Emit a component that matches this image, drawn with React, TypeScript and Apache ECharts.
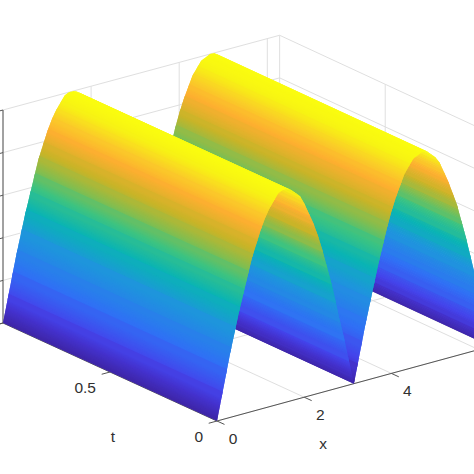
import React, { useEffect, useRef } from "react";
import * as echarts from "echarts";

// Surface cross-section (the height does not change along t)
const xSamples = [0,0.1,0.2,0.3,0.4,0.5,0.6,0.7,0.8,0.9,1,1.1,1.2,1.3,1.4,1.5,1.6,1.7,1.8,1.9,2,2.1,2.2,2.3,2.4,2.5,2.6,2.7,2.8,2.9,3,3.1,3.14,3.2,3.3,3.4,3.5,3.6,3.7,3.8,3.9,4,4.1,4.2,4.3,4.4,4.5,4.6,4.7,4.8,4.9,5,5.1,5.2,5.3,5.4,5.5,5.6,5.7,5.8,5.9,6,6.1,6.2,6.28];
const zSamples = [0,0.1,0.2,0.3,0.39,0.48,0.56,0.64,0.72,0.78,0.84,0.89,0.93,0.96,0.99,1,1,0.99,0.97,0.95,0.91,0.86,0.81,0.75,0.68,0.6,0.52,0.43,0.33,0.24,0.14,0.04,0,0.06,0.16,0.26,0.35,0.44,0.53,0.61,0.69,0.76,0.82,0.87,0.92,0.95,0.98,0.99,1,1,0.98,0.96,0.93,0.88,0.83,0.77,0.71,0.63,0.55,0.46,0.37,0.28,0.18,0.08,0];
const xTicks = [0, 2, 4, 6];
const tTicks = [0, 0.5, 1];
const zTicks = [0, 0.2, 0.4, 0.6, 0.8, 1];
const xTickLabels = ["0", "2", "4"];
const tTickLabels = ["0", "0.5"];
const xMax = 6.28;
const parulaPos = [0, 0.06, 0.11, 0.23, 0.39, 0.5, 0.6, 0.67, 0.75, 0.84, 0.9, 0.96, 1];
const parulaRgb = [[62,38,168],[68,50,205],[68,68,235],[48,112,245],[30,150,220],[10,180,180],[60,195,130],[130,190,80],[200,180,40],[253,175,48],[250,205,40],[247,243,20],[250,252,15]];

const GRID = "#dfdfdf";
const AXIS = "#555555";
const TEXT = "#303030";

function project(x: number, t: number, z: number): [number, number] {
  return [217 + (43.6 + 0.45 * t) * x - 214 * t, 421 - 11.9 * x - 98 * t - 213 * z];
}
function parula(z: number): string {
  const v = Math.max(0, Math.min(1, z));
  let i = 0;
  while (i < parulaPos.length - 2 && v > parulaPos[i + 1]) i++;
  const f = (v - parulaPos[i]) / (parulaPos[i + 1] - parulaPos[i]);
  const c = parulaRgb[i].map((a, k) => Math.round(a + (parulaRgb[i + 1][k] - a) * f));
  return `rgb(${c[0]},${c[1]},${c[2]})`;
}

type Seg = [number, number, number, number, number, number, number];
const segs: Seg[] = [];
function seg(a: number[], b: number[], kind: number) {
  segs.push([a[0], a[1], a[2], b[0], b[1], b[2], kind]);
}
for (const x of xTicks) {
  seg([x, 0, 0], [x, 1, 0], 0);
  seg([x, 1, 0], [x, 1, 1], 0);
}
for (const t of tTicks) {
  seg([0, t, 0], [xMax, t, 0], 0);
  seg([xMax, t, 0], [xMax, t, 1], 0);
}
for (const z of zTicks) {
  seg([0, 1, z], [xMax, 1, z], 0);
  seg([xMax, 1, z], [xMax, 0, z], 0);
}
seg([0, 0, 0], [xMax, 0, 0], 1);
seg([0, 0, 0], [0, 1, 0], 1);
seg([0, 1, 0], [0, 1, 1], 1);
for (const x of xTicks) seg([x, 0, 0], [x, -0.035, 0], 1);
for (const t of tTicks) seg([0, t, 0], [-0.19, t, 0], 1);
for (const z of zTicks) seg([0, 1, z], [-0.08, 1, z], 1);

// painted from the far side (large x) to the near side
const strips: number[][] = [];
for (let i = xSamples.length - 2; i >= 0; i--) {
  const n = Math.min(i + 2, xSamples.length - 1);
  strips.push([xSamples[i], zSamples[i], xSamples[i + 1], zSamples[i + 1], xSamples[n], zSamples[n]]);
}

const labels: [string, number, number, string][] = [
  ...xTickLabels.map((s): [string, number, number, string] => {
    const p = project(Number(s), 0, 0);
    return [s, p[0] + 16, p[1] + 17.5, "center"];
  }),
  ...tTickLabels.map((s): [string, number, number, string] => {
    const p = project(0, Number(s), 0);
    return [s, p[0] - 14, p[1] + 15.5, "right"];
  }),
  ["t", 113, 436, "center"],
  ["x", 323, 443, "center"],
];

export default function App() {
  const ref = useRef<HTMLDivElement>(null);
  useEffect(() => {
    document.body.style.margin = "0";
    const chart = echarts.init(ref.current!, undefined, { renderer: "svg" });
    chart.setOption({
      animation: false,
      backgroundColor: "#ffffff",
      grid: { left: 0, right: 0, top: 0, bottom: 0 },
      xAxis: { type: "value", min: 0, max: 474, show: false },
      yAxis: { type: "value", min: 0, max: 474, inverse: true, show: false },
      series: [
        {
          type: "custom",
          name: "box",
          coordinateSystem: "cartesian2d",
          silent: true,
          clip: true,
          data: segs,
          renderItem: (_p: any, api: any) => {
            const a = api.coord(project(api.value(0), api.value(1), api.value(2)));
            const b = api.coord(project(api.value(3), api.value(4), api.value(5)));
            return {
              type: "line",
              shape: { x1: a[0], y1: a[1], x2: b[0], y2: b[1] },
              style: { stroke: api.value(6) ? AXIS : GRID, lineWidth: 1, fill: "none" },
            };
          },
        },
        {
          type: "custom",
          name: "surface",
          coordinateSystem: "cartesian2d",
          silent: true,
          clip: true,
          data: strips,
          renderItem: (_p: any, api: any) => {
            const x0 = api.value(0), z0 = api.value(1), x1 = api.value(2), z1 = api.value(3);
            const x2 = api.value(4), z2 = api.value(5);
            // each strip is painted in thin bands so its colour follows the height smoothly;
            // every band also reaches under its far neighbour so no seam lets the back show through
            const bands = Math.max(1, Math.ceil(Math.abs(z1 - z0) * 213));
            const children: any[] = [];
            for (let k = bands - 1; k >= 0; k--) {
              const a = k / bands, b = (k + 1) / bands, e = (k + 2) / bands;
              const xa = x0 + (x1 - x0) * a, za = z0 + (z1 - z0) * a;
              const xb = x0 + (x1 - x0) * b, zb = z0 + (z1 - z0) * b;
              const xe = e <= 1 ? x0 + (x1 - x0) * e : x1 + (x2 - x1) * 0.3;
              const ze = e <= 1 ? z0 + (z1 - z0) * e : z1 + (z2 - z1) * 0.3;
              const pts = [
                project(xa, 0, za), project(xb, 0, zb), project(xe, 0, ze),
                project(xe, 1, ze), project(xb, 1, zb), project(xa, 1, za),
              ].map((p) => api.coord(p));
              children.push({
                type: "polygon",
                shape: { points: pts },
                style: { fill: parula((za + zb) / 2) },
              });
            }
            return { type: "group", children };
          },
        },
        {
          type: "custom",
          name: "labels",
          coordinateSystem: "cartesian2d",
          silent: true,
          clip: false,
          data: labels.map((l) => [l[1], l[2]]),
          renderItem: (p: any, api: any) => {
            const c = api.coord([api.value(0), api.value(1)]);
            const l = labels[p.dataIndex];
            return {
              type: "text",
              x: c[0],
              y: c[1],
              style: {
                text: l[0],
                fill: TEXT,
                fontFamily: "Liberation Sans, Arial, sans-serif",
                fontSize: 15.5,
                textAlign: l[3],
                verticalAlign: "middle",
              },
            };
          },
        },
      ],
    });
    return () => chart.dispose();
  }, []);
  return <div ref={ref} style={{ position: "absolute", left: 0, top: 0, width: 474, height: 474 }} />;
}
